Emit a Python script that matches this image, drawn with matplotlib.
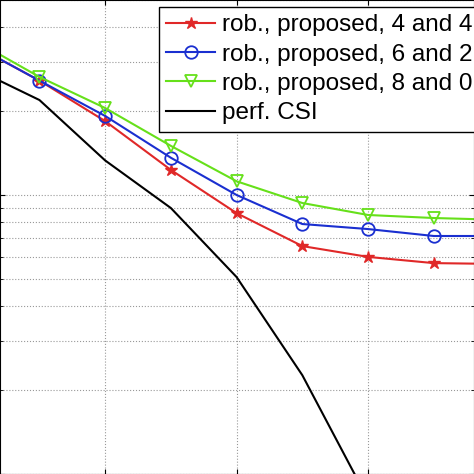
import matplotlib
matplotlib.use("Agg")
import matplotlib.pyplot as plt

snr = [0, 5, 10, 15, 20, 25, 30, 35, 40]
red = [0.345, 0.257, 0.184, 0.123, 0.0861, 0.0656, 0.0600, 0.0570, 0.0566]
blue = [0.345, 0.257, 0.192, 0.136, 0.100, 0.0787, 0.0755, 0.0713, 0.0713]
green = [0.36, 0.265, 0.205, 0.150, 0.112, 0.0936, 0.0848, 0.0827, 0.0815]
perf_snr = [0, 5, 10, 15, 20, 25, 30]
perf = [0.285, 0.219, 0.133, 0.0898, 0.0508, 0.0226, 0.0081]
labels = ["rob., proposed, 4 and 4 bits", "rob., proposed, 6 and 2 bits",
          "rob., proposed, 8 and 0 bits", "perf. CSI"]

fig = plt.figure(figsize=(4.74, 4.74), dpi=100)
ax = fig.add_axes([0, 0, 1, 1])
ax.set_yscale("log")
ax.plot(snr, red, color="#e02828", marker="*", ms=9, lw=1.5, label=labels[0])
ax.plot(snr, blue, color="#1a2fd0", marker="o", ms=9, mfc="none", mew=1.3, lw=1.5, label=labels[1])
ax.plot(snr, green, color="#66e01a", marker="v", ms=9, mfc="none", mew=1.3, lw=1.5, label=labels[2])
ax.plot(perf_snr, perf, color="black", lw=1.5, label=labels[3])
ax.set_xlim(2.0, 38.06)
ax.set_ylim(0.01, 0.5)
ax.set_xticks([10, 20, 30])
ax.grid(True, which="both", linestyle=":", color="#999999", lw=0.8)
ax.tick_params(which="both", direction="in", labelbottom=False, labelleft=False, top=True, right=True)
leg = ax.legend(loc="upper left", bbox_to_anchor=(159/474, 1-7/474),
                prop={"family": "Liberation Sans", "size": 17.5},
                frameon=True, fancybox=False, edgecolor="black", framealpha=1,
                borderaxespad=0, handlelength=2.0, handletextpad=0.3, labelspacing=0.3, borderpad=0.3)
leg.get_frame().set_linewidth(1.0)
fig.savefig("out.png", dpi=100)
